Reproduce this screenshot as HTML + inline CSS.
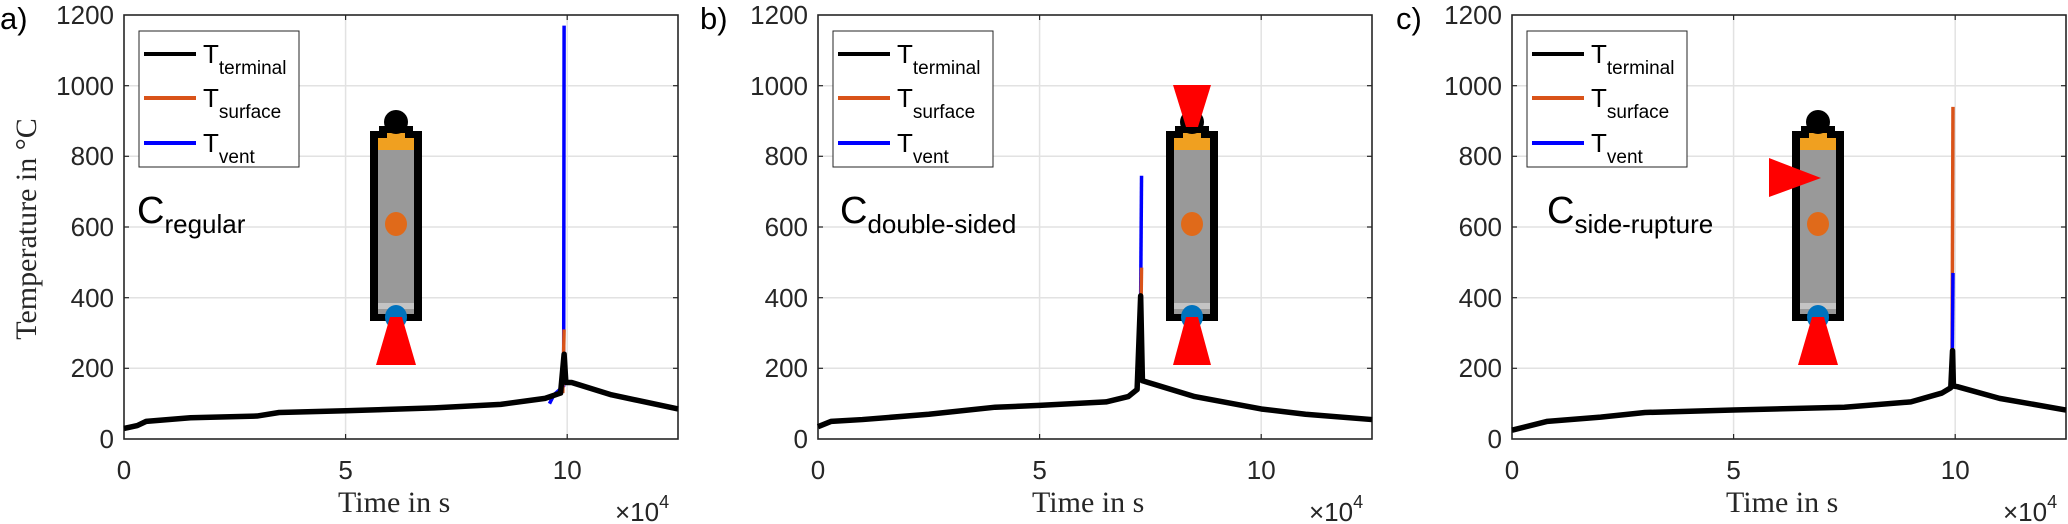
<!DOCTYPE html>
<html><head><meta charset="utf-8"><style>
html,body{margin:0;padding:0;background:#fff;}
svg{display:block;}
.tk{font-family:"Liberation Sans",sans-serif;font-size:26px;fill:#262626;}
.sf{font-family:"Liberation Serif",serif;fill:#262626;}
.lg{font-family:"Liberation Sans",sans-serif;fill:#000;}
</style></head><body>
<svg width="2068" height="524" viewBox="0 0 2068 524" xmlns="http://www.w3.org/2000/svg">
<defs>
<g id="axes">
  <g stroke="#e2e2e2" stroke-width="1.5">
    <line x1="221.6" y1="0" x2="221.6" y2="424"/><line x1="443.2" y1="0" x2="443.2" y2="424"/>
    <line x1="0" y1="70.7" x2="554" y2="70.7"/><line x1="0" y1="141.3" x2="554" y2="141.3"/>
    <line x1="0" y1="212" x2="554" y2="212"/><line x1="0" y1="282.7" x2="554" y2="282.7"/>
    <line x1="0" y1="353.3" x2="554" y2="353.3"/>
  </g>
  <g stroke="#262626" stroke-width="1.2">
    <line x1="0" y1="70.7" x2="5" y2="70.7"/><line x1="0" y1="141.3" x2="5" y2="141.3"/><line x1="0" y1="212" x2="5" y2="212"/><line x1="0" y1="282.7" x2="5" y2="282.7"/><line x1="0" y1="353.3" x2="5" y2="353.3"/>
    <line x1="549" y1="70.7" x2="554" y2="70.7"/><line x1="549" y1="141.3" x2="554" y2="141.3"/><line x1="549" y1="212" x2="554" y2="212"/><line x1="549" y1="282.7" x2="554" y2="282.7"/><line x1="549" y1="353.3" x2="554" y2="353.3"/>
    <line x1="221.6" y1="424" x2="221.6" y2="419"/><line x1="443.2" y1="424" x2="443.2" y2="419"/>
    <line x1="221.6" y1="0" x2="221.6" y2="5"/><line x1="443.2" y1="0" x2="443.2" y2="5"/>
  </g>
  <rect x="0" y="0" width="554" height="424" fill="none" stroke="#262626" stroke-width="1.6"/>
  <g class="tk" text-anchor="end">
    <text x="-10" y="9">1200</text><text x="-10" y="80">1000</text><text x="-10" y="150">800</text>
    <text x="-10" y="221">600</text><text x="-10" y="292">400</text><text x="-10" y="362">200</text><text x="-10" y="433">0</text>
  </g>
  <g class="tk" text-anchor="middle">
    <text x="0" y="464">0</text><text x="221.6" y="464">5</text><text x="443.2" y="464">10</text>
  </g>
  <text class="sf" x="214" y="497" font-size="30">Time in s</text>
  <text class="tk" x="491" y="506" font-size="25">×10<tspan font-size="18" dy="-13">4</tspan></text>
  <rect x="15" y="16" width="160" height="136" fill="#fff" stroke="#262626" stroke-width="1"/>
  <line x1="20" y1="39" x2="72" y2="39" stroke="#000" stroke-width="4"/>
  <line x1="20" y1="83" x2="72" y2="83" stroke="#d95319" stroke-width="4"/>
  <line x1="20" y1="128" x2="72" y2="128" stroke="#0000ff" stroke-width="4"/>
  <text class="lg" x="79" y="48" font-size="26">T<tspan font-size="19" dy="11">terminal</tspan></text>
  <text class="lg" x="79" y="92" font-size="26">T<tspan font-size="19" dy="11">surface</tspan></text>
  <text class="lg" x="79" y="137" font-size="26">T<tspan font-size="19" dy="11">vent</tspan></text>
</g>
<g id="cell">
  <rect x="-26" y="1" width="52" height="190" fill="#000"/>
  <rect x="-17" y="-4" width="34" height="8" fill="#000"/>
  <rect x="-18" y="8" width="36" height="176" fill="#999"/>
  <rect x="-18" y="173" width="36" height="6" fill="#c4c4c4"/>
  <path d="M-18 8 H-9 V3 H9 V8 H18 V20 H-18Z" fill="#f0a020"/>
  <ellipse cx="0" cy="-8" rx="12" ry="12" fill="#000"/>
  <ellipse cx="0" cy="94" rx="11" ry="12" fill="#e06a1a"/>
  <ellipse cx="0" cy="187" rx="11" ry="12" fill="#0072bd"/>
</g>
</defs>

<text x="0" y="29" font-family="Liberation Sans,sans-serif" font-size="31">a)</text>
<text x="700" y="29" font-family="Liberation Sans,sans-serif" font-size="31">b)</text>
<text x="1396" y="29" font-family="Liberation Sans,sans-serif" font-size="31">c)</text>
<text class="sf" transform="translate(36,229) rotate(-90)" font-size="30" text-anchor="middle">Temperature in °C</text>

<!-- Panel a -->
<g transform="translate(124,15)">
  <use href="#axes"/>
  <text class="lg" x="13" y="208" font-size="38">C<tspan font-size="26" dy="10">regular</tspan></text>
  <use href="#cell" x="272" y="115"/>
  <path d="M266 302 H278 L292 350 H252Z" fill="#ff0000"/>
  <g transform="translate(0,424) scale(44.32,-0.35333)" fill="none" stroke-linejoin="round">
    <path d="M9.6 100 L9.7 125 L9.92 150 L9.93 1170" stroke="#0000ff" stroke-width="3.5" vector-effect="non-scaling-stroke"/>
    <path d="M9.9 130 L9.93 310" stroke="#d95319" stroke-width="3.5" vector-effect="non-scaling-stroke"/>
    <path d="M0 30 L0.3 38 L0.5 50 L1.5 60 L3 65 L3.5 75 L5 80 L7 88 L8.5 98 L9.5 115 L9.85 130 L9.93 240 L9.97 160 L10.1 160 L11 125 L12.5 85" stroke="#000" stroke-width="5.5" vector-effect="non-scaling-stroke"/>
  </g>
</g>

<!-- Panel b -->
<g transform="translate(818,15)">
  <use href="#axes"/>
  <text class="lg" x="22" y="208" font-size="38">C<tspan font-size="26" dy="10">double-sided</tspan></text>
  <use href="#cell" x="374" y="115"/>
  <path d="M355 70 H393 L380 112 H368Z" fill="#ff0000"/>
  <path d="M368 302 H380 L393 350 H355Z" fill="#ff0000"/>
  <g transform="translate(0,424) scale(44.32,-0.35333)" fill="none" stroke-linejoin="round">
    <path d="M7.28 400 L7.3 745" stroke="#0000ff" stroke-width="3.5" vector-effect="non-scaling-stroke"/>
    <path d="M7.28 300 L7.3 485" stroke="#d95319" stroke-width="3.5" vector-effect="non-scaling-stroke"/>
    <path d="M0 35 L0.3 50 L1 55 L2.5 70 L4 90 L5 95 L6.5 105 L7.0 120 L7.2 140 L7.28 405 L7.32 165 L7.45 160 L8.5 120 L10 85 L11 70 L12.5 55" stroke="#000" stroke-width="5.5" vector-effect="non-scaling-stroke"/>
  </g>
</g>

<!-- Panel c -->
<g transform="translate(1512,15)">
  <use href="#axes"/>
  <text class="lg" x="35" y="208" font-size="38">C<tspan font-size="26" dy="10">side-rupture</tspan></text>
  <use href="#cell" x="306" y="115"/>
  <path d="M257 143 L309 163 L257 182Z" fill="#ff0000"/>
  <path d="M300 302 H312 L326 350 H286Z" fill="#ff0000"/>
  <g transform="translate(0,424) scale(44.32,-0.35333)" fill="none" stroke-linejoin="round">
    <path d="M9.93 250 L9.95 940" stroke="#d95319" stroke-width="3.5" vector-effect="non-scaling-stroke"/>
    <path d="M9.93 160 L9.95 470" stroke="#0000ff" stroke-width="3.5" vector-effect="non-scaling-stroke"/>
    <path d="M0 25 L0.8 50 L2 62 L3 75 L5 82 L7.5 90 L9 105 L9.7 130 L9.9 145 L9.94 250 L9.96 150 L10.05 148 L11 115 L12.5 82" stroke="#000" stroke-width="5.5" vector-effect="non-scaling-stroke"/>
  </g>
</g>
</svg>
</body></html>
